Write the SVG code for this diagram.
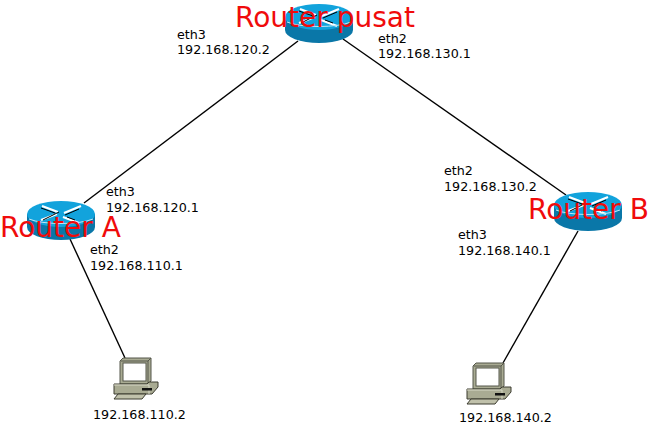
<svg xmlns="http://www.w3.org/2000/svg" width="652" height="426" viewBox="0 0 652 426">
<style>
.lbl{font-family:"DejaVu Sans",sans-serif;font-size:12.7px;fill:#000}
.name{font-family:"DejaVu Sans",sans-serif;font-size:28px;fill:#f00b0b}
.link{stroke:#000;stroke-width:1.4;fill:none}
</style>
<defs>
<symbol id="router" overflow="visible">
<path d="M0 13V26A34 13 0 0 0 68 26V13Z" fill="#0a77a8"/>
<ellipse cx="34" cy="13" rx="34" ry="13" fill="#12a3dc"/>
<path d="M15 5L31 11M36 16L52 22M14 19L30 13M37 12L54 5" stroke="#fff" stroke-width="2.2" fill="none"/>
<path d="M14 7L28 12M40 16L48 19M16 19L32 11M38 14L52 8" stroke="#000" stroke-width="1" fill="none"/>
<path d="M2 18C16 24 52 24 66 18" stroke="#bfe8f7" stroke-width="1" fill="none"/>
</symbol>
<symbol id="pc" overflow="visible">
<path d="M6 3L9 0H37V23L34 26H6Z" fill="#a9ab93" stroke="#55574a" stroke-width="1"/>
<path d="M7 3H34V26M34 3L37 0" fill="none" stroke="#55574a"/>
<rect x="9" y="5" width="23" height="18" fill="#fff" stroke="#55574a"/>
<path d="M0 26H33L35 24H44V29L38 36H0Z" fill="#a9ab93" stroke="#3c3c30"/>
<path d="M0 27H35V36" fill="none" stroke="#d8d9c8"/>
<rect x="28" y="30" width="10" height="2.5" fill="#111"/>
<path d="M4 36H32L28 41H0Z" fill="#c0c1ab" stroke="#3c3c30"/>
</symbol>
</defs>
<rect width="652" height="426" fill="#fff"/>
<g id="connectors">
<line class="link" x1="298" y1="41" x2="84" y2="203"/>
<line class="link" x1="343" y1="39" x2="566" y2="195"/>
<line class="link" x1="70" y1="239" x2="125" y2="358"/>
<line class="link" x1="578" y1="231" x2="503" y2="363"/>
</g>
<g id="router-pusat"><use href="#router" x="285" y="4"/><text class="name" x="235" y="27">Router pusat</text></g>
<g id="router-a"><use href="#router" x="27" y="201"/><text class="name" x="0" y="237">Router A</text></g>
<g id="router-b"><use href="#router" x="554" y="192"/><text class="name" x="528" y="219">Router B</text></g>
<g id="pc-a"><use href="#pc" x="114" y="358"/><text class="lbl" x="93" y="419">192.168.110.2</text></g>
<g id="pc-b"><use href="#pc" x="467" y="363"/><text class="lbl" x="459" y="422">192.168.140.2</text></g>
<g id="labels">
<text class="lbl" x="177" y="39">eth3</text><text class="lbl" x="177" y="54">192.168.120.2</text>
<text class="lbl" x="378" y="43">eth2</text><text class="lbl" x="378" y="58">192.168.130.1</text>
<text class="lbl" x="106" y="196">eth3</text><text class="lbl" x="106" y="212">192.168.120.1</text>
<text class="lbl" x="90" y="254">eth2</text><text class="lbl" x="90" y="270">192.168.110.1</text>
<text class="lbl" x="444" y="175">eth2</text><text class="lbl" x="444" y="191">192.168.130.2</text>
<text class="lbl" x="458" y="239">eth3</text><text class="lbl" x="458" y="255">192.168.140.1</text>
</g>
</svg>
